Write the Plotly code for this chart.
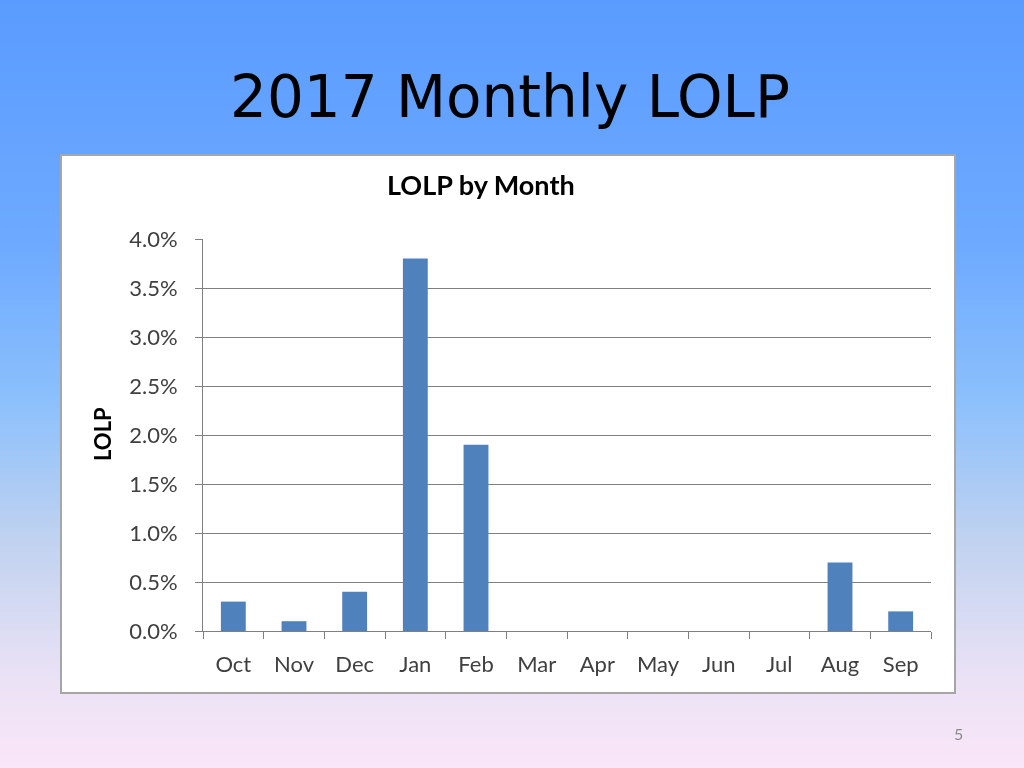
import plotly.graph_objects as go

months = ["Oct", "Nov", "Dec", "Jan", "Feb", "Mar", "Apr", "May", "Jun", "Jul", "Aug", "Sep"]
lolp = [0.003, 0.001, 0.004, 0.038, 0.019, 0.0, 0.0, 0.0, 0.0, 0.0, 0.007, 0.002]
y_ticks = [0.0, 0.005, 0.01, 0.015, 0.02, 0.025, 0.03, 0.035, 0.04]
y_tick_labels = ["0.0%", "0.5%", "1.0%", "1.5%", "2.0%", "2.5%", "3.0%", "3.5%", "4.0%"]

W, H = 1024, 768

def px(x):
    return x / W

def py(y):
    return 1 - y / H

# background gradient stops (pixel y, rgb)
stops = [(0, (90, 155, 255)), (250, (110, 170, 255)), (400, (140, 192, 252)),
         (540, (192, 210, 240)), (680, (235, 226, 245)), (768, (249, 230, 248))]

def color_at(y):
    for (y0, c0), (y1, c1) in zip(stops[:-1], stops[1:]):
        if y0 <= y <= y1:
            t = (y - y0) / (y1 - y0)
            return "rgb(%d,%d,%d)" % tuple(round(a + (b - a) * t) for a, b in zip(c0, c1))
    return "rgb(%d,%d,%d)" % stops[-1][1]

shapes = []
step = 6
for y in range(0, H, step):
    shapes.append(dict(type="rect", xref="paper", yref="paper", x0=0, x1=1,
                       y0=py(y + step + 2), y1=py(y), fillcolor=color_at(y + step / 2),
                       line=dict(width=0), layer="below"))
shapes.append(dict(type="rect", xref="paper", yref="paper", x0=px(61), x1=px(955),
                   y0=py(693), y1=py(155), fillcolor="white",
                   line=dict(color="#a6a6a6", width=2), layer="below"))

fig = go.Figure()
fig.add_trace(go.Bar(x=months, y=lolp, marker=dict(color="#4f81bd", line=dict(width=0)),
                     hoverinfo="x+y"))

axis_color = "#808080"
fig.update_layout(
    template="none",
    width=W, height=H,
    margin=dict(l=0, r=0, t=0, b=0, pad=0, autoexpand=False),
    paper_bgcolor="rgba(0,0,0,0)",
    plot_bgcolor="rgba(0,0,0,0)",
    showlegend=False,
    bargap=0.59,
    shapes=shapes,
    font=dict(family="Lato", color="#404040"),
    xaxis=dict(domain=[px(203), px(931)], showgrid=False, showline=True, automargin=False,
               linecolor=axis_color, linewidth=1, ticks="outside", tickson="boundaries",
               ticklen=7, tickcolor=axis_color, tickfont=dict(size=22, color="#404040"),
               ticklabelstandoff=14),
    yaxis=dict(domain=[py(631), py(239)], range=[0, 0.04], tickvals=y_ticks,
               ticktext=y_tick_labels, showgrid=True, gridcolor=axis_color, gridwidth=1,
               showline=True, linecolor=axis_color, linewidth=1, ticks="outside",
               ticklen=7, tickcolor=axis_color, zeroline=False, automargin=False,
               tickfont=dict(size=22, color="#404040"), ticklabelstandoff=13),
    annotations=[
        dict(text="2017 Monthly LOLP", xref="paper", yref="paper", x=px(510), y=py(97),
             showarrow=False, font=dict(family="DejaVu Sans", size=58, color="black"),
             xanchor="center", yanchor="middle"),
        dict(text="<b>LOLP by Month</b>", xref="paper", yref="paper", x=px(481), y=py(185),
             showarrow=False, font=dict(family="Lato", size=27, color="black"),
             xanchor="center", yanchor="middle"),
        dict(text="<b>LOLP</b>", xref="paper", yref="paper", x=px(102), y=py(434),
             showarrow=False, textangle=-90, font=dict(family="Lato", size=22, color="black"),
             xanchor="center", yanchor="middle"),
        dict(text="5", xref="paper", yref="paper", x=px(958), y=py(733),
             showarrow=False, font=dict(family="Lato", size=16, color="#8c8c8c"),
             xanchor="center", yanchor="middle"),
    ],
)

fig.write_html(
    "out.html",
    config={"displayModeBar": False},
    post_script=("document.body.style.margin='0';document.body.style.padding='0';"
                 "var d=document.getElementById('{plot_id}');"
                 "d.style.position='fixed';d.style.top='0';d.style.left='0';"),
)
